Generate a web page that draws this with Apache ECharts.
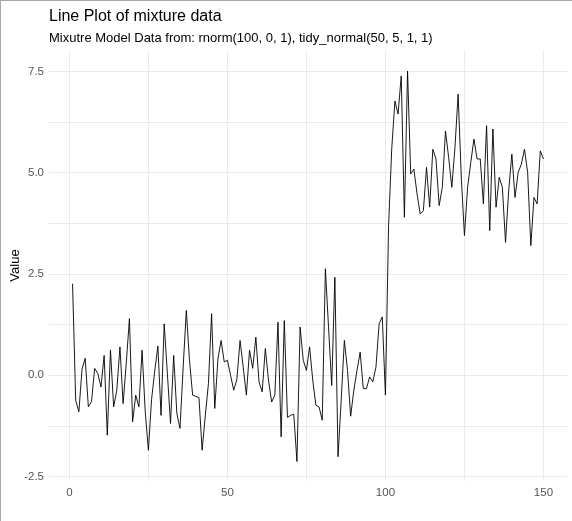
<!DOCTYPE html>
<html>
<head>
<meta charset="utf-8">
<title>Line Plot of mixture data</title>
<script src="https://cdn.jsdelivr.net/npm/echarts@6/dist/echarts.min.js"></script>
<style>
  html, body { margin: 0; padding: 0; background: #fff; }
  #chart { width: 571px; height: 520px; border-left: 1px solid #a8a8a8; border-top: 1px solid #a8a8a8; }
</style>
</head>
<body>
<div id="chart"></div>
<script type="text/javascript">
// values, index 1..150
var idx = [];
for (var k = 1; k <= 150; k++) idx.push(k);

var values = [
  2.26, -0.62, -0.90, 0.15, 0.42, -0.78, -0.65, 0.17, 0.04, -0.29,
  0.49, -1.48, 0.62, -0.78, -0.37, 0.70, -0.70, 0.30, 1.40, -1.15,
  -0.49, -0.78, 0.62, -0.90, -1.85, -0.60, 0.10, 0.72, -0.99, 1.27,
  0.05, -1.19, 0.49, -0.94, -1.31, 0.20, 1.60, 0.37, -0.49, -0.52,
  -0.55, -1.85, -1.00, -0.20, 1.52, -0.82, 0.40, 0.86, 0.33, 0.37,
  0.00, -0.37, -0.10, 0.86, 0.20, -0.49, 0.62, 0.17, 0.94, -0.16,
  -0.41, 0.66, -0.12, -0.66, -0.49, 1.31, -1.52, 1.35, -1.04, -0.99,
  -0.96, -2.13, 1.19, 0.37, 0.12, 0.70, -0.12, -0.74, -0.78, -1.11,
  2.63, 1.19, -0.25, 2.42, -2.01, -0.62, 0.86, 0.12, -1.01, -0.37,
  0.12, 0.57, -0.33, -0.33, -0.04, -0.16, 0.20, 1.27, 1.44, -0.49,
  3.70, 5.60, 6.77, 6.45, 7.39, 3.90, 7.51, 4.97, 5.09, 4.48,
  3.98, 4.06, 5.13, 4.15, 5.58, 5.34, 4.19, 4.64, 6.03, 5.38,
  4.64, 5.62, 6.94, 4.89, 3.45, 4.64, 5.25, 5.83, 5.34, 5.34,
  4.23, 6.16, 3.57, 6.08, 4.15, 4.89, 4.64, 3.28, 4.56, 5.46,
  4.39, 5.01, 5.21, 5.58, 5.01, 3.20, 4.39, 4.23, 5.54, 5.34
];

var xTicks = [0, 50, 100, 150];
var xGrid = [0, 25, 50, 75, 100, 125, 150];
var yTicks = [-2.5, 0, 2.5, 5, 7.5];
var yGrid = [-2.5, -1.25, 0, 1.25, 2.5, 3.75, 5, 6.25, 7.5];

var pts = idx.map(function (x, i) { return [x, values[i]]; });

var myChart = echarts.init(document.getElementById('chart'));
var option = {
  backgroundColor: '#fff',
  animation: false,
  title: [
    {
      text: 'Line Plot of mixture data',
      left: 43, top: 3,
      textStyle: { fontFamily: 'Liberation Sans', fontSize: 16, fontWeight: 'normal', color: '#000' }
    },
    {
      text: 'Mixutre Model Data from: rnorm(100, 0, 1), tidy_normal(50, 5, 1, 1)',
      left: 43, top: 26,
      textStyle: { fontFamily: 'Liberation Sans', fontSize: 13, fontWeight: 'normal', color: '#000' }
    }
  ],
  grid: { left: 48, right: 5, top: 49, bottom: 40, containLabel: false, outerBoundsMode: 'none' },
  xAxis: {
    type: 'value',
    min: -6.45, max: 157.45,
    axisLine: { show: false },
    axisTick: { show: false, customValues: xGrid },
    axisLabel: {
      customValues: xTicks, margin: 6,
      color: '#555', fontFamily: 'Liberation Sans', fontSize: 11.5
    },
    splitLine: { show: true, lineStyle: { color: '#ebebeb', width: 1 } }
  },
  yAxis: {
    type: 'value',
    min: -2.61, max: 8.03,
    name: 'Value',
    nameLocation: 'middle',
    nameMoveOverlap: false,
    nameGap: 27,
    nameTextStyle: { fontFamily: 'Liberation Sans', fontSize: 13, color: '#000' },
    axisLine: { show: false },
    axisTick: { show: false, customValues: yGrid },
    axisLabel: {
      customValues: yTicks, margin: 5,
      color: '#555', fontFamily: 'Liberation Sans', fontSize: 11.5,
      formatter: function (v) { return v.toFixed(1); }
    },
    splitLine: { show: true, lineStyle: { color: '#ebebeb', width: 1 } }
  },
  series: [{
    type: 'line',
    data: pts,
    showSymbol: false,
    lineStyle: { color: '#000', width: 0.9 }
  }]
};
myChart.setOption(option);
</script>
</body>
</html>
